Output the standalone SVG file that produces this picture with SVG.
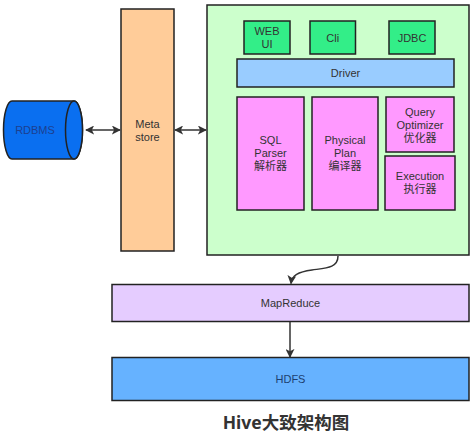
<svg xmlns="http://www.w3.org/2000/svg" width="474" height="435" viewBox="0 0 474 435">
<style>
.b{stroke:#222;stroke-width:1.5}
.t{font-family:"Liberation Sans","Noto Sans CJK SC",sans-serif;font-size:11px;fill:#333;text-anchor:middle}
.c{stroke:#333;stroke-width:1.5;fill:none}
</style>
<defs>
<marker id="ah" viewBox="0 0 10 10" refX="9" refY="5" markerWidth="9" markerHeight="9" orient="auto-start-reverse" markerUnits="userSpaceOnUse">
<path d="M0,0 L10,5 L0,10 L2.5,5 Z" fill="#333"/>
</marker>
</defs>
<rect width="474" height="435" fill="#fff"/>
<g id="rdbms">
<path class="b" fill="#0a6ff0" d="M12,101 L74,101 A8.5,29 0 0 1 74,159 L12,159 A8.5,29 0 0 1 12,101 Z"/>
<ellipse class="b" fill="#0a6ff0" cx="74" cy="130" rx="8.5" ry="29"/>
<text class="t" x="35" y="134" style="fill:#1d3f8f">RDBMS</text>
</g>
<g id="metastore">
<rect class="b" x="121" y="9" width="53" height="242" fill="#ffcc99"/>
<text class="t" x="147.5" y="128">Meta<tspan x="147.5" dy="13">store</tspan></text>
</g>
<g id="hive">
<rect class="b" x="207" y="5" width="262" height="250" fill="#ccffcc"/>
</g>
<g id="webui">
<rect class="b" x="244" y="21" width="46" height="33" fill="#33ee88"/>
<text class="t" x="267" y="35">WEB<tspan x="267" dy="13">UI</tspan></text>
</g>
<g id="cli">
<rect class="b" x="310" y="21" width="45.5" height="33" fill="#33ee88"/>
<text class="t" x="332.75" y="41.5">Cli</text>
</g>
<g id="jdbc">
<rect class="b" x="389" y="21" width="46" height="33" fill="#33ee88"/>
<text class="t" x="412" y="41.5">JDBC</text>
</g>
<g id="driver">
<rect class="b" x="237" y="59" width="217" height="28" fill="#99ccff"/>
<text class="t" x="345.5" y="77">Driver</text>
</g>
<g id="sqlparser">
<rect class="b" x="237" y="97" width="67" height="113" fill="#ff99ff"/>
<text class="t" x="270.5" y="144">SQL<tspan x="270.5" dy="13">Parser</tspan><tspan x="270.5" dy="13">解析器</tspan></text>
</g>
<g id="physicalplan">
<rect class="b" x="312" y="97" width="66" height="113" fill="#ff99ff"/>
<text class="t" x="345" y="144">Physical<tspan x="345" dy="13">Plan</tspan><tspan x="345" dy="13">编译器</tspan></text>
</g>
<g id="optimizer">
<rect class="b" x="386" y="97" width="68" height="55" fill="#ff99ff"/>
<text class="t" x="420" y="115.5">Query<tspan x="420" dy="13">Optimizer</tspan><tspan x="420" dy="13">优化器</tspan></text>
</g>
<g id="execution">
<rect class="b" x="385" y="156" width="70" height="54" fill="#ff99ff"/>
<text class="t" x="420" y="180">Execution<tspan x="420" dy="13">执行器</tspan></text>
</g>
<g id="mapreduce">
<rect class="b" x="112" y="284.5" width="357" height="37" fill="#e5ccff"/>
<text class="t" x="290.5" y="307">MapReduce</text>
</g>
<g id="hdfs">
<rect class="b" x="112" y="357.5" width="357" height="43" fill="#66b2ff"/>
<text class="t" x="290.5" y="383" style="fill:#1d3f6f">HDFS</text>
</g>
<g id="connectors">
<line class="c" x1="86" y1="130" x2="120" y2="130" marker-start="url(#ah)" marker-end="url(#ah)"/>
<line class="c" x1="175" y1="130" x2="206" y2="130" marker-start="url(#ah)" marker-end="url(#ah)"/>
<path class="c" d="M338,256 C338,268 326,268 312,270 C298,272 292,275 291,283.5" marker-end="url(#ah)"/>
<line class="c" x1="290" y1="322" x2="290" y2="357" marker-end="url(#ah)"/>
</g>
<text x="286" y="429" style="font-family:'Noto Sans','Noto Sans CJK SC',sans-serif;font-size:17.5px;font-weight:bold;fill:#333;text-anchor:middle">Hive大致架构图</text>
</svg>
